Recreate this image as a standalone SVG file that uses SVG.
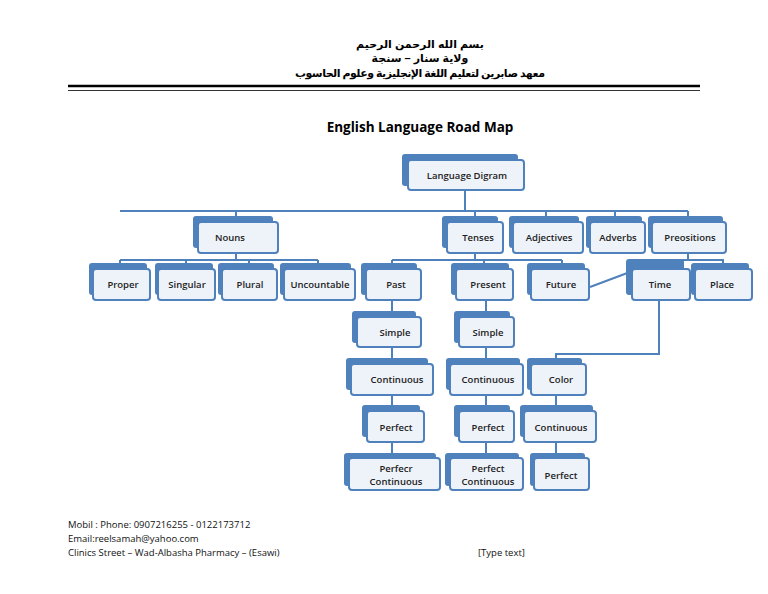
<svg xmlns="http://www.w3.org/2000/svg" width="768" height="594" viewBox="0 0 768 594">
<style>
.bk{fill:#4f81bd}
.fr{fill:#eef3fa;stroke:#4f81bd;stroke-width:2}
.t{font-family:"Open Sans","Liberation Sans",sans-serif;font-size:9.5px;font-weight:600;fill:#222;text-anchor:middle}
.ar{font-family:"Liberation Sans","DejaVu Sans",sans-serif;font-size:11px;font-weight:bold;text-anchor:middle}
.f{font-family:"Open Sans","Liberation Sans",sans-serif;font-size:9.5px;fill:#111}
.c{fill:none;stroke:#4f81bd;stroke-width:2}
</style>
<rect width="768" height="594" fill="#fff"/>
<g id="header">
<text class="ar" x="420" y="48" direction="rtl">بسم الله الرحمن الرحيم</text>
<text class="ar" x="420" y="62" direction="rtl">ولاية سنار –  سنجة</text>
<text class="ar" x="420" y="77" direction="rtl" textLength="250">معهد صابرين لتعليم اللغة الإنجليزية وعلوم الحاسوب</text>
<line x1="68" y1="86" x2="700" y2="86" stroke="#000" stroke-width="2.5"/>
<line x1="68" y1="90.5" x2="700" y2="90.5" stroke="#000" stroke-width="0.8"/>
<text x="420" y="132" font-family="Open Sans,Liberation Sans,sans-serif" font-size="13.5" font-weight="bold" text-anchor="middle">English Language Road Map</text>
</g>
<g id="connectors">
<path class="c" d="M465 190V211M120 211H688M236 211V222M475 211V222M546 211V222M615 211V222M688 211V222"/>
<path class="c" d="M236 253V260M120 260H318M120 260V268M186 260V268M249 260V268M318 260V268"/>
<path class="c" d="M475 253V260M392 260H562M392 260V268M484 260V268M562 260V268"/>
<path class="c" d="M688 253V260H660V268M688 260H723V268"/>
<path class="c" d="M590 287L630 272"/>
<path class="c" d="M392 300V315M392 347V363M392 395V410M392 442V457"/>
<path class="c" d="M486 300V315M486 347V363M486 395V410M486 442V457"/>
<path class="c" d="M659 300V354H556V363M556 395V410M556 442V458"/>
</g>
<g id="n-lang"><rect class="bk" x="402" y="154" width="116" height="32" rx="3"/><rect class="fr" x="408" y="160" width="116" height="30" rx="3"/><text class="t" x="467" y="179">Language Digram</text></g>
<g id="n-nouns"><rect class="bk" x="193" y="216" width="80" height="32" rx="3"/><rect class="fr" x="198" y="222" width="80" height="31" rx="3"/><text class="t" x="230" y="241">Nouns</text></g>
<g id="n-tenses"><rect class="bk" x="442" y="216" width="56" height="32" rx="3"/><rect class="fr" x="447" y="222" width="56" height="31" rx="3"/><text class="t" x="478" y="241">Tenses</text></g>
<g id="n-adj"><rect class="bk" x="509" y="216" width="70" height="32" rx="3"/><rect class="fr" x="513" y="222" width="70" height="31" rx="3"/><text class="t" x="549" y="241">Adjectives</text></g>
<g id="n-adv"><rect class="bk" x="586" y="216" width="56" height="32" rx="3"/><rect class="fr" x="590" y="222" width="55" height="31" rx="3"/><text class="t" x="618" y="241">Adverbs</text></g>
<g id="n-prep"><rect class="bk" x="648" y="216" width="75" height="32" rx="3"/><rect class="fr" x="652" y="222" width="74" height="31" rx="3"/><text class="t" x="690" y="241">Preositions</text></g>
<g id="n-proper"><rect class="bk" x="89" y="263" width="58" height="32" rx="3"/><rect class="fr" x="93" y="269" width="57" height="31" rx="3"/><text class="t" x="123" y="288">Proper</text></g>
<g id="n-singular"><rect class="bk" x="155" y="263" width="58" height="32" rx="3"/><rect class="fr" x="158" y="269" width="57" height="31" rx="3"/><text class="t" x="187" y="288">Singular</text></g>
<g id="n-plural"><rect class="bk" x="218" y="263" width="56" height="32" rx="3"/><rect class="fr" x="222" y="269" width="55" height="31" rx="3"/><text class="t" x="250" y="288">Plural</text></g>
<g id="n-uncount"><rect class="bk" x="280" y="263" width="71" height="32" rx="3"/><rect class="fr" x="284" y="269" width="71" height="31" rx="3"/><text class="t" x="320" y="288">Uncountable</text></g>
<g id="n-past"><rect class="bk" x="361" y="263" width="56" height="32" rx="3"/><rect class="fr" x="366" y="269" width="55" height="31" rx="3"/><text class="t" x="396" y="288">Past</text></g>
<g id="n-present"><rect class="bk" x="451" y="263" width="58" height="32" rx="3"/><rect class="fr" x="456" y="269" width="57" height="31" rx="3"/><text class="t" x="488" y="288">Present</text></g>
<g id="n-future"><rect class="bk" x="527" y="263" width="58" height="32" rx="3"/><rect class="fr" x="531" y="269" width="58" height="31" rx="3"/><text class="t" x="561" y="288">Future</text></g>
<g id="n-time"><rect class="bk" x="626" y="259" width="58" height="36" rx="3"/><rect class="fr" x="632" y="269" width="58" height="31" rx="3"/><text class="t" x="660" y="288">Time</text></g>
<g id="n-place"><rect class="bk" x="691" y="263" width="58" height="32" rx="3"/><rect class="fr" x="695" y="269" width="57" height="31" rx="3"/><text class="t" x="722" y="288">Place</text></g>
<g id="n-p-simple"><rect class="bk" x="352" y="311" width="64" height="32" rx="3"/><rect class="fr" x="357" y="317" width="64" height="30" rx="3"/><text class="t" x="395" y="336">Simple</text></g>
<g id="n-p-cont"><rect class="bk" x="346" y="358" width="82" height="32" rx="3"/><rect class="fr" x="351" y="364" width="82" height="31" rx="3"/><text class="t" x="397" y="383">Continuous</text></g>
<g id="n-p-perf"><rect class="bk" x="362" y="405" width="58" height="32" rx="3"/><rect class="fr" x="367" y="411" width="57" height="31" rx="3"/><text class="t" x="396" y="431">Perfect</text></g>
<g id="n-p-pc"><rect class="bk" x="344" y="453" width="92" height="33" rx="3"/><rect class="fr" x="349" y="458" width="91" height="32" rx="3"/><text class="t" x="396" y="472">Perfecr</text><text class="t" x="396" y="485">Continuous</text></g>
<g id="n-r-simple"><rect class="bk" x="454" y="311" width="56" height="32" rx="3"/><rect class="fr" x="459" y="317" width="55" height="30" rx="3"/><text class="t" x="488" y="336">Simple</text></g>
<g id="n-r-cont"><rect class="bk" x="446" y="358" width="74" height="32" rx="3"/><rect class="fr" x="450" y="364" width="73" height="31" rx="3"/><text class="t" x="488" y="383">Continuous</text></g>
<g id="n-r-perf"><rect class="bk" x="454" y="405" width="56" height="32" rx="3"/><rect class="fr" x="459" y="411" width="55" height="31" rx="3"/><text class="t" x="488" y="431">Perfect</text></g>
<g id="n-r-pc"><rect class="bk" x="445" y="453" width="74" height="33" rx="3"/><rect class="fr" x="450" y="458" width="73" height="32" rx="3"/><text class="t" x="488" y="472">Perfect</text><text class="t" x="488" y="485">Continuous</text></g>
<g id="n-color"><rect class="bk" x="527" y="358" width="55" height="32" rx="3"/><rect class="fr" x="531" y="364" width="55" height="31" rx="3"/><text class="t" x="561" y="383">Color</text></g>
<g id="n-t-cont"><rect class="bk" x="520" y="405" width="73" height="32" rx="3"/><rect class="fr" x="524" y="411" width="72" height="31" rx="3"/><text class="t" x="561" y="431">Continuous</text></g>
<g id="n-t-perf"><rect class="bk" x="530" y="453" width="55" height="33" rx="3"/><rect class="fr" x="534" y="458" width="55" height="32" rx="3"/><text class="t" x="561" y="479">Perfect</text></g>
<g id="footer">
<text class="f" x="68" y="528">Mobil : Phone: 0907216255 - 0122173712</text>
<text class="f" x="68" y="542">Email:reelsamah@yahoo.com</text>
<text class="f" x="68" y="556">Clinics Street – Wad-Albasha Pharmacy – (Esawi)</text>
<text class="f" x="478" y="556">[Type text]</text>
</g>
</svg>
